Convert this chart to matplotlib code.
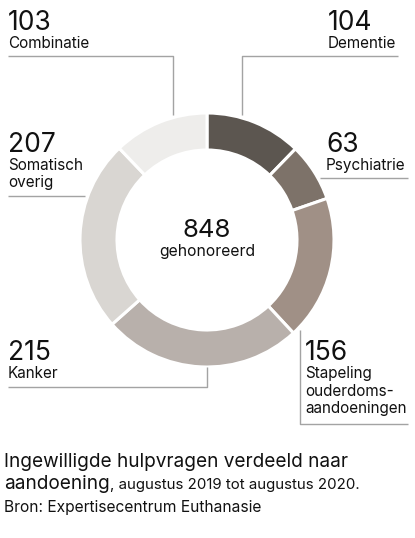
import matplotlib.pyplot as plt

# data (clockwise from 12 o'clock)
labels = ["Dementie", "Psychiatrie", "Stapeling\nouderdoms-\naandoeningen",
          "Kanker", "Somatisch\noverig", "Combinatie"]
values = [104, 63, 156, 215, 207, 103]
colors = ["#5c5650", "#7d7269", "#a09086", "#b8b0ab", "#d9d6d2", "#eeedeb"]
total_label = "gehonoreerd"

H = 538
FONT = "Inter"
INK = "#111111"
LINE = "#a3a3a3"


def Y(y):
    # pixel row (from top) -> data y
    return H - y


fig = plt.figure(figsize=(4.15, 5.38), dpi=100)
ax = fig.add_axes([0, 0, 1, 1])

cx, cy, r_out, ring = 207, 240, 127, 37
ax.pie(values, colors=colors, startangle=90, counterclock=False,
       center=(cx, Y(cy)), radius=r_out, frame=True,
       wedgeprops=dict(width=ring, edgecolor="white", linewidth=2.2))
ax.set_xlim(0, 415)
ax.set_ylim(0, H)
ax.set_aspect("auto")
ax.axis("off")

# centre total
ax.text(cx, Y(237), str(sum(values)), ha="center", va="baseline",
        fontsize=18.5, family=FONT, color=INK)
ax.text(cx, Y(256), total_label, ha="center", va="baseline",
        fontsize=11.3, family=FONT, color=INK)


def label(x, y_num, value, text, ha="left"):
    ax.text(x, Y(y_num), str(value), ha=ha, va="baseline",
            fontsize=19, family=FONT, color=INK)
    for i, line in enumerate(text.split("\n")):
        ax.text(x, Y(y_num + 18 + 17.5 * i), line, ha=ha, va="baseline",
                fontsize=11, family=FONT, color=INK)


def leader(xs, ys):
    ax.plot(xs, [Y(v) for v in ys], color=LINE, lw=1.0,
            solid_capstyle="butt")


label(8, 30, values[5], labels[5])
leader([8, 173, 173], [56, 56, 115])

label(328, 30, values[0], labels[0])
leader([242, 242, 398], [115, 56, 56])

label(326, 152, values[1], labels[1])
leader([320, 408], [178, 178])

label(8, 152, values[4], labels[4])
leader([8, 85], [196, 196])

label(8, 360, values[3], labels[3])
leader([8, 207, 207], [387, 387, 367])

label(305, 360, values[2], labels[2])
leader([300, 300, 408], [330, 424, 424])

# caption
ax.text(4, Y(467), "Ingewilligde hulpvragen verdeeld naar", ha="left",
        va="baseline", fontsize=13.7, family=FONT, color=INK)
t1 = ax.text(4, Y(489), "aandoening", ha="left", va="baseline",
             fontsize=13.7, family=FONT, color=INK)
fig.canvas.draw()
bb = t1.get_window_extent()
x_end = ax.transData.inverted().transform((bb.x1, bb.y0))[0]
ax.text(x_end, Y(489), ", augustus 2019 tot augustus 2020.", ha="left",
        va="baseline", fontsize=10.8, family=FONT, color=INK)
ax.text(4, Y(512), "Bron: Expertisecentrum Euthanasie", ha="left",
        va="baseline", fontsize=11.2, family=FONT, color=INK)

fig.savefig("out.png", dpi=100, facecolor="white")
